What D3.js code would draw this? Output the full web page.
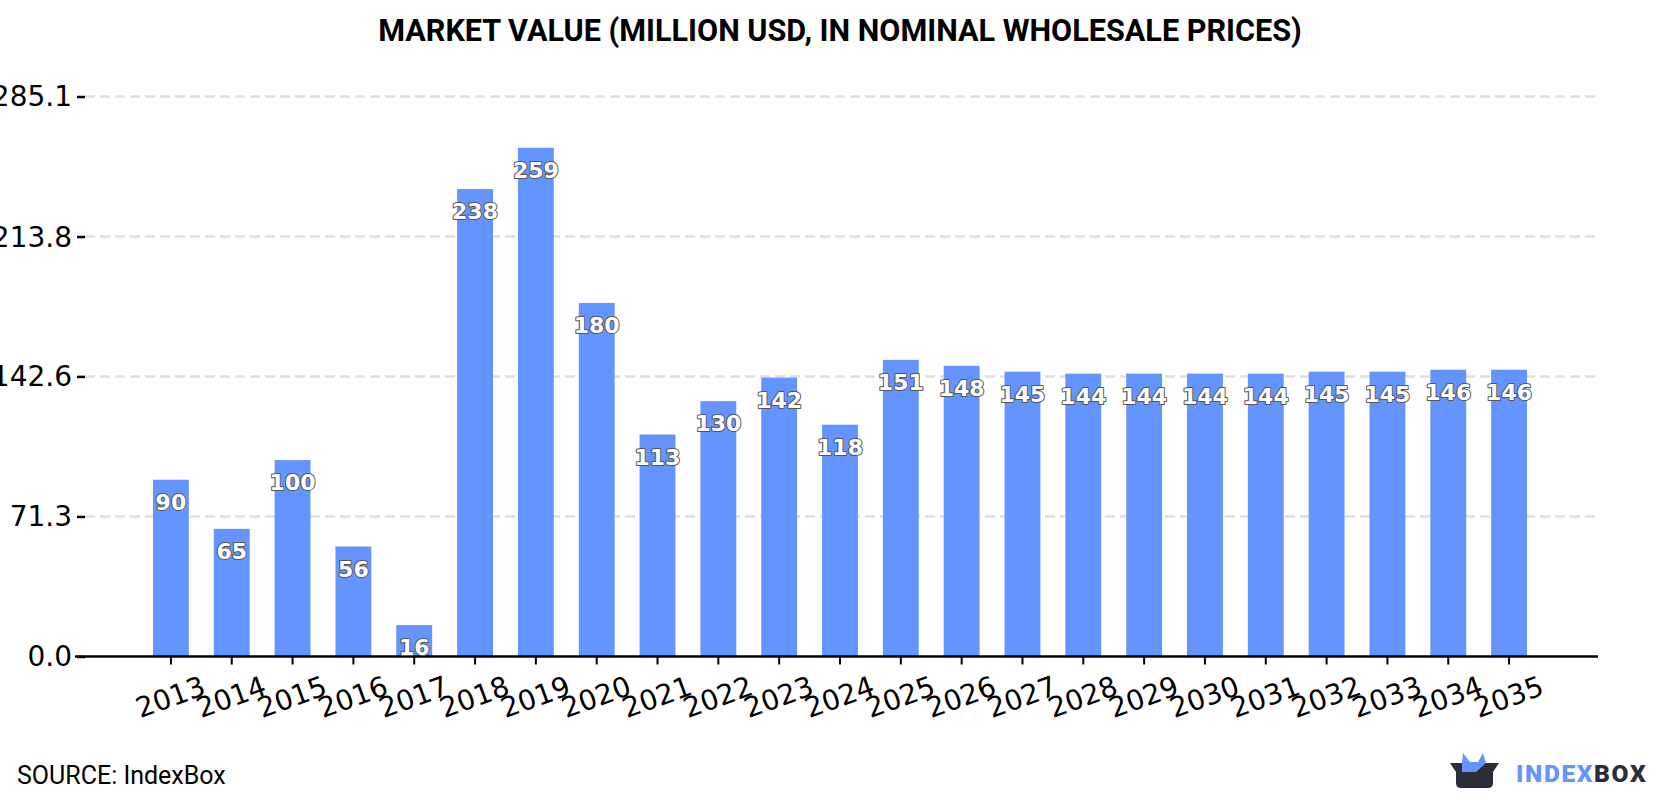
<!DOCTYPE html>
<html>
<head>
<meta charset="utf-8">
<script src="https://cdnjs.cloudflare.com/ajax/libs/d3/7.8.5/d3.min.js"></script>
<style>
html,body{margin:0;padding:0;background:#fff;overflow:hidden}
svg{display:block}
</style>
</head>
<body>
<svg id="chart" width="1680" height="800"></svg>
<script>
const years = ["2013","2014","2015","2016","2017","2018","2019","2020","2021","2022","2023","2024","2025","2026","2027","2028","2029","2030","2031","2032","2033","2034","2035"];
const values = [90,65,100,56,16,238,259,180,113,130,142,118,151,148,145,144,144,144,144,145,145,146,146];
const yTicks = [0,71.3,142.6,213.8,285.1];
const titleText = "MARKET VALUE (MILLION USD, IN NOMINAL WHOLESALE PRICES)";
const sourceText = "SOURCE: IndexBox";

const svg = d3.select("#chart");
const plot = {left:85,right:1598,top:96.5,bottom:656.5};

const x = d3.scaleBand().domain(years).range([140.5,1539.5]).paddingInner(0.41).paddingOuter(0.205);
const y = d3.scaleLinear().domain([0,285.1]).range([plot.bottom,plot.top]);

svg.append("text").attr("x",840).attr("y",41).attr("text-anchor","middle")
  .style("font","700 30.6px Roboto").attr("fill","#000").text(titleText);

// horizontal grid
svg.append("g").selectAll("line").data(yTicks.filter(d=>d>0)).join("line")
  .attr("x1",plot.left).attr("x2",plot.right)
  .attr("y1",d=>y(d)).attr("y2",d=>y(d))
  .attr("stroke","#dfdfdf").attr("stroke-width",2.5).attr("stroke-dasharray","10 5");

// bars
svg.append("g").selectAll("rect").data(values).join("rect")
  .attr("x",(d,i)=>x(years[i])).attr("width",x.bandwidth())
  .attr("y",d=>y(d)).attr("height",d=>y(0)-y(d))
  .attr("fill","#6495ff");

// y axis
const yAxis = svg.append("g").attr("transform",`translate(${plot.left},0)`)
  .call(d3.axisLeft(y).tickValues(yTicks).tickFormat(d3.format(".1f")).tickSize(8).tickPadding(5));
yAxis.select(".domain").remove();
yAxis.selectAll("line").attr("stroke","#000").attr("stroke-width",2.5);
yAxis.selectAll("text").style("font","28px 'DejaVu Sans'").attr("fill","#000").attr("transform","translate(0,0.5)");

// x axis
const xAxis = svg.append("g").attr("transform",`translate(0,${plot.bottom})`)
  .call(d3.axisBottom(x).tickSize(8).tickPadding(14));
xAxis.select(".domain").attr("d",`M${plot.left-10},0H${plot.right}`).attr("stroke","#000").attr("stroke-width",2.5);
xAxis.selectAll("line").attr("stroke","#000").attr("stroke-width",2);
xAxis.selectAll("text").style("font","28px 'DejaVu Sans'").attr("fill","#000")
  .attr("text-anchor","middle")
  .attr("transform","translate(-4,9) rotate(-20 0 22)");

// value labels inside the bars
svg.append("g").selectAll("text").data(values).join("text")
  .attr("x",(d,i)=>x(years[i])+x.bandwidth()/2)
  .attr("y",d=>y(d)+30)
  .attr("text-anchor","middle")
  .style("font","700 22px 'DejaVu Sans'")
  .attr("fill","#fff").attr("stroke","#555").attr("stroke-width",2)
  .attr("paint-order","stroke").attr("stroke-linejoin","round")
  .text(d=>d);

svg.append("text").attr("x",17).attr("y",784).style("font","400 25px Roboto").attr("fill","#000").text(sourceText);

// brand mark and wordmark
const logo = svg.append("g");
logo.append("path").attr("d","M1450 763H1499L1493 772V783Q1493 788 1488 788H1461Q1456 788 1456 783V772Z").attr("fill","#2b2d38");
logo.append("path").attr("d","M1463 753L1470 762H1478L1483 753L1486 763L1476 772H1462V763Z").attr("fill","#6495ff");
logo.append("text").attr("x",1516).attr("y",782).style("font","900 24.6px Roboto").style("letter-spacing","1.6px").attr("fill","#6495ff")
  .text("INDEX").append("tspan").attr("fill","#2b2d38").text("BOX");
</script>
</body>
</html>
